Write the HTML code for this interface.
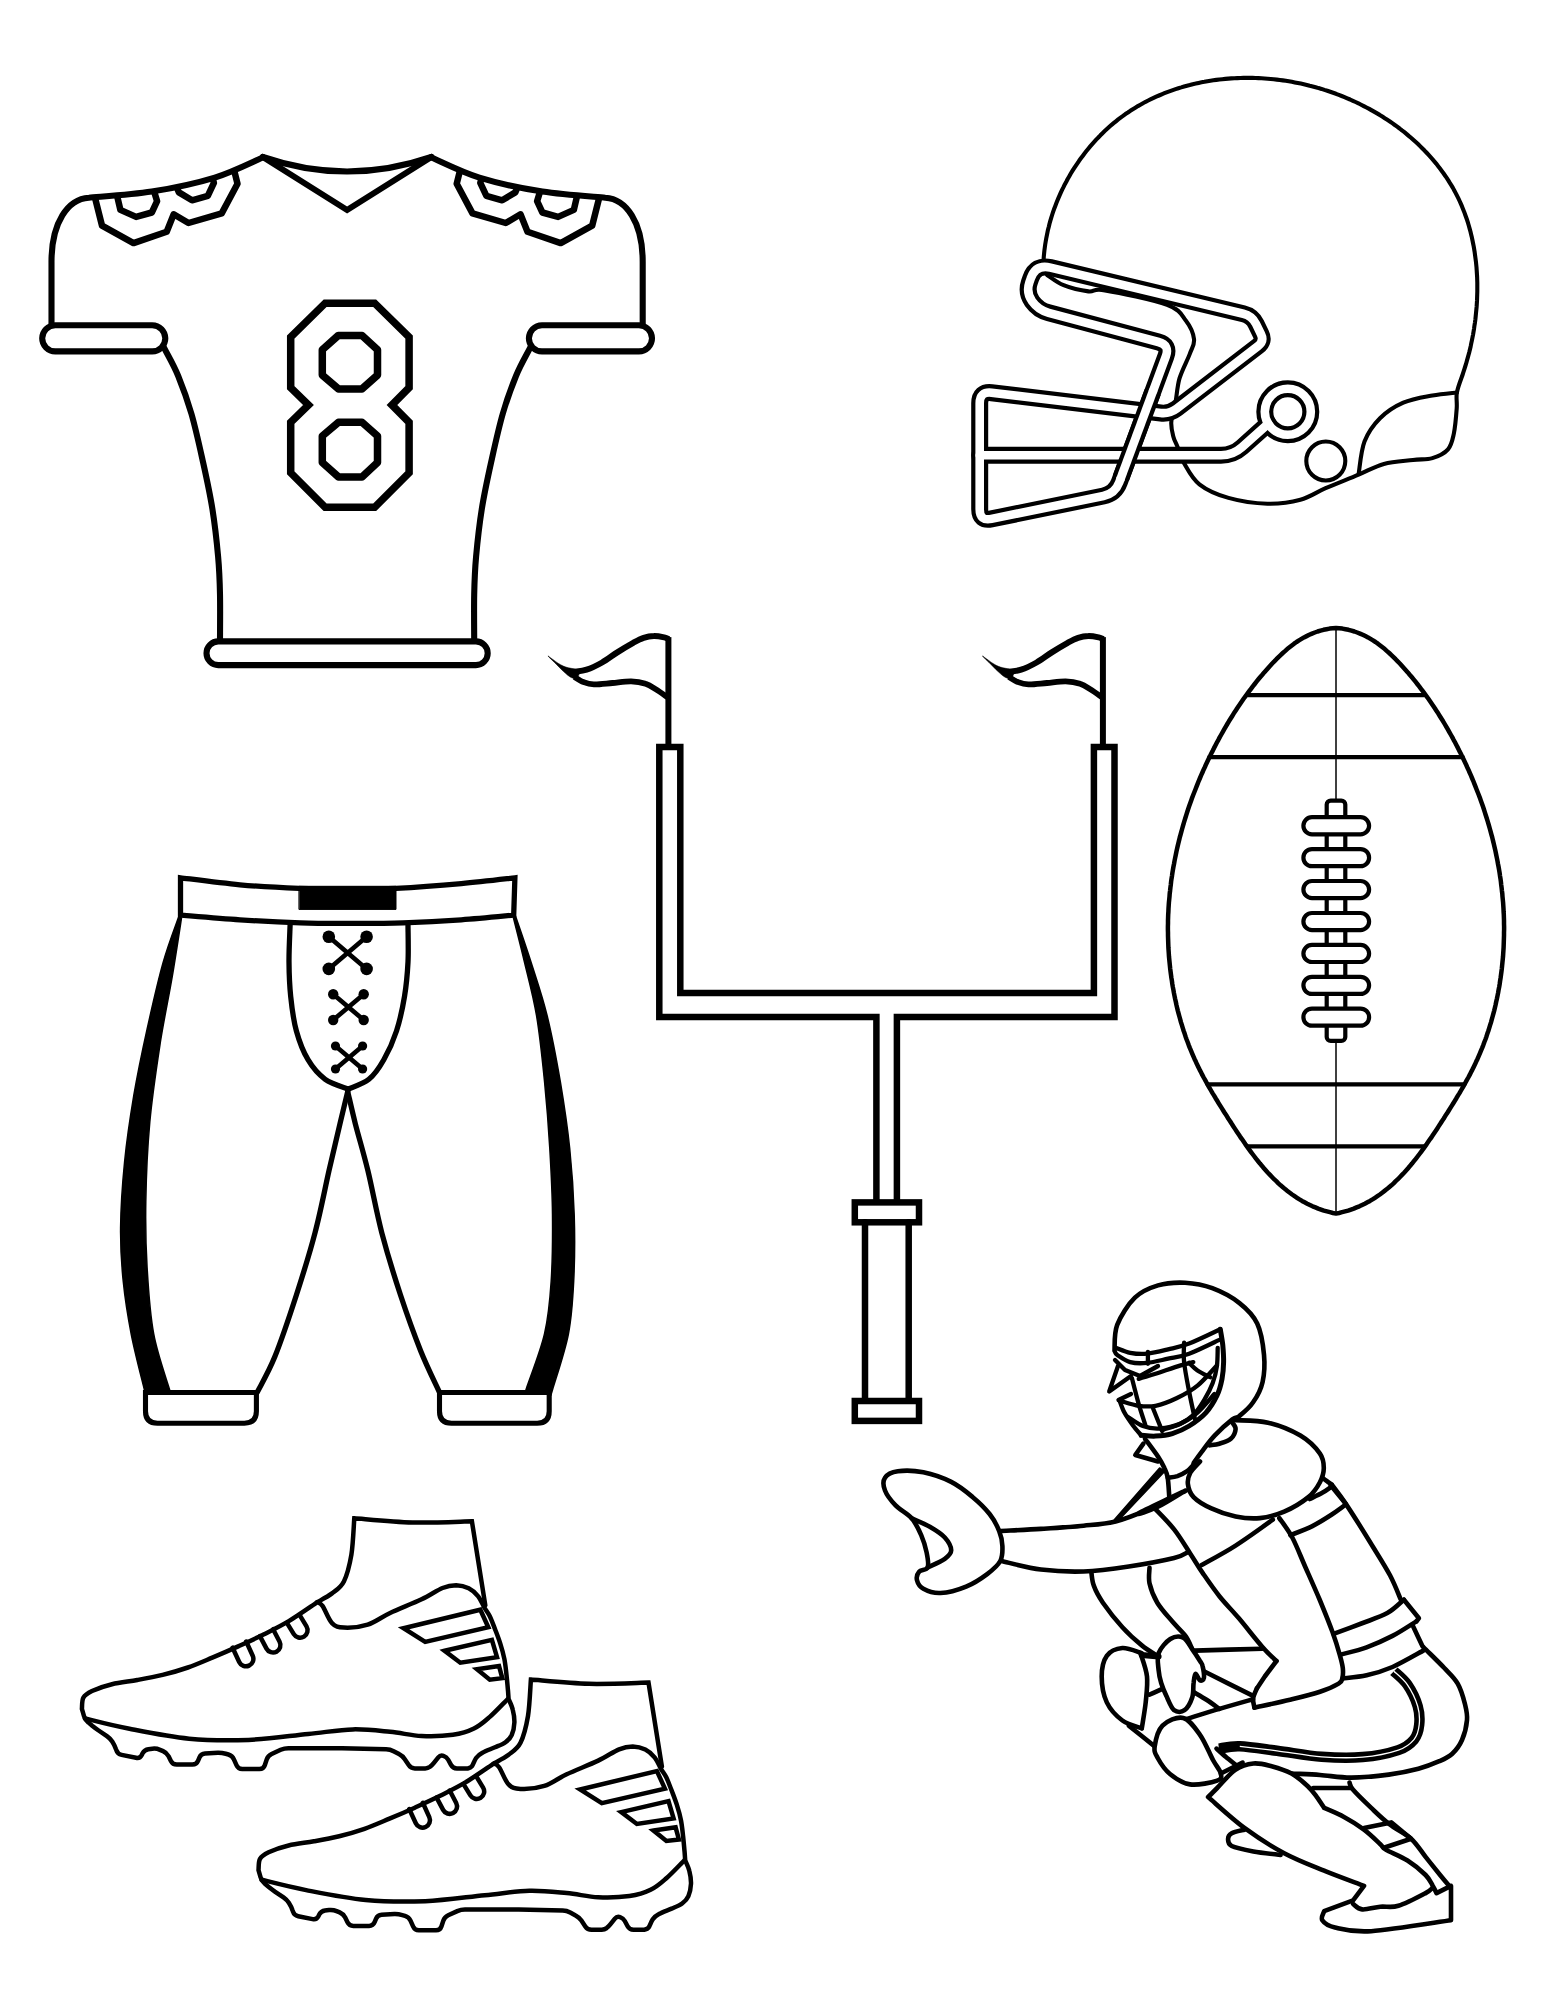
<!DOCTYPE html>
<html><head><meta charset="utf-8"><style>
html,body{margin:0;padding:0;background:#fff;}
svg{display:block;position:absolute;left:0;top:0;}
</style></head><body>
<svg width="1545" height="2000" viewBox="0 0 1545 2000" stroke-linecap="round" stroke-linejoin="round">
<rect width="1545" height="2000" fill="#fff"/>
<path d="M262.8 157.5 C254.8 160.8 233.3 171.9 214.8 177.6 C196.3 183.3 172.8 188.2 151.8 191.6 C130.9 194.9 99.4 196.7 88.9 197.7 C68 199 51.5 222 51.5 262 L51.5 330" fill="none" stroke="#000" stroke-width="6.1" stroke-linejoin="round"/>
<path d="M431.4 157.5 C439.4 160.8 460.9 171.9 479.4 177.6 C497.9 183.3 521.4 188.2 542.4 191.6 C563.3 194.9 594.8 196.7 605.3 197.7 C626.2 199 642.7 222 642.7 262 L642.7 330" fill="none" stroke="#000" stroke-width="6.1" stroke-linejoin="round"/>
<path d="M161 342 C161.7 343.2 162 343.7 164.9 349.4 C167.8 355.1 173.8 365.2 178.2 376 C182.6 386.8 187.4 399.8 191.5 414 C195.6 428.2 199.4 445.7 202.9 461.5 C206.4 477.3 209.9 493.2 212.4 509 C214.9 524.8 216.8 542.2 218.1 556.5 C219.4 570.8 219.7 580.2 220 594.5 C220.3 608.8 220 634.1 220 642" fill="none" stroke="#000" stroke-width="6.1" />
<path d="M533.2 342 C532.6 343.2 532.2 343.7 529.3 349.4 C526.4 355.1 520.4 365.2 516 376 C511.6 386.8 506.8 399.8 502.7 414 C498.6 428.2 494.8 445.7 491.3 461.5 C487.8 477.3 484.3 493.2 481.8 509 C479.3 524.8 477.4 542.2 476.1 556.5 C474.8 570.8 474.5 580.2 474.2 594.5 C473.9 608.8 474.2 634.1 474.2 642" fill="none" stroke="#000" stroke-width="6.1" />
<path d="M262.8 157 Q347 186 431.4 157" fill="none" stroke="#000" stroke-width="6.1" />
<path d="M262.8 157 L347.1 210 L431.4 157" fill="none" stroke="#000" stroke-width="6.1" stroke-linejoin="miter"/>
<rect x="42.2" y="325.2" width="123.1" height="26.2" rx="13.1" fill="#fff" stroke="#000" stroke-width="6.1"/>
<rect x="528.9" y="325.2" width="123.1" height="26.2" rx="13.1" fill="#fff" stroke="#000" stroke-width="6.1"/>
<rect x="206.5" y="641.4" width="281.2" height="23.7" rx="11.8" fill="#fff" stroke="#000" stroke-width="6.1"/>
<path d="M95 197.7 L102 225.6 L133.5 243.1 L166.7 231.7 L173.7 214.3 L188.5 223 L221.7 213.4 L237.5 183.7 L234 169.7" fill="none" stroke="#000" stroke-width="6.5" stroke-linejoin="round" stroke-linecap="butt"/>
<path d="M599.2 197.7 L592.2 225.6 L560.7 243.1 L527.5 231.7 L520.5 214.3 L505.7 223 L472.5 213.4 L456.7 183.7 L460.2 169.7" fill="none" stroke="#000" stroke-width="6.5" stroke-linejoin="round" stroke-linecap="butt"/>
<path d="M116.9 195 L120.4 209.9 L136.1 216.9 L151.8 212.5 L157.1 201.2 L153.6 189.8" fill="none" stroke="#000" stroke-width="6.5" stroke-linejoin="round" stroke-linecap="butt"/>
<path d="M577.3 195 L573.8 209.9 L558.1 216.9 L542.4 212.5 L537.1 201.2 L540.6 189.8" fill="none" stroke="#000" stroke-width="6.5" stroke-linejoin="round" stroke-linecap="butt"/>
<path d="M176.3 186.3 L178.9 192.4 L192 200.3 L207.8 195.9 L213.9 182.8 L212.1 176.7" fill="none" stroke="#000" stroke-width="6.5" stroke-linejoin="round" stroke-linecap="butt"/>
<path d="M517.9 186.3 L515.3 192.4 L502.2 200.3 L486.4 195.9 L480.3 182.8 L482.1 176.7" fill="none" stroke="#000" stroke-width="6.5" stroke-linejoin="round" stroke-linecap="butt"/>
<path d="M325.2 303.2 L374.6 303.2 L409.1 337.1 L409.1 387.7 L391.9 405 L409.1 422.3 L409.1 472.8 L374.6 507.3 L325.2 507.3 L290.7 472.8 L290.7 422.3 L308.5 405 L290.7 387.7 L290.7 337.1Z" fill="none" stroke="#000" stroke-width="7.5" stroke-linejoin="miter"/>
<path d="M338.4 335.4 L362 335.4 L377.5 349.8 L377.5 375.1 L362 388.9 L338.4 388.9 L322.3 375.1 L322.3 349.8Z" fill="none" stroke="#000" stroke-width="7.5" />
<path d="M338.4 422.3 L362 422.3 L377.5 436 L377.5 462.5 L362 476.9 L338.4 476.9 L322.3 462.5 L322.3 436Z" fill="none" stroke="#000" stroke-width="7.5" />
<path d="M876.4 1202.4 L876.4 1017 L659.3 1017 L659.3 747 L680.3 747 L680.3 993 L1093.9 993 L1093.9 747 L1114.5 747 L1114.5 1017 L896.9 1017 L896.9 1202.4" fill="none" stroke="#000" stroke-width="6.5" stroke-linejoin="miter"/>
<rect x="854.8" y="1202.4" width="64.2" height="19.9" fill="#fff" stroke="#000" stroke-width="6.5" stroke-linejoin="miter"/>
<path d="M865 1222.3 L865 1401 M908.7 1222.3 L908.7 1401" fill="none" stroke="#000" stroke-width="6.5" />
<rect x="854.8" y="1401" width="64.2" height="19.9" fill="#fff" stroke="#000" stroke-width="6.5" stroke-linejoin="miter"/>
<path d="M574.2 671.8 C576.2 671.4 581.9 671.3 586.6 669.7 C591.3 668.2 597 665.4 602.1 662.5 C607.3 659.5 612.5 655.4 617.7 652.1 C622.8 648.8 628.9 645.2 633.2 642.8 C637.5 640.4 640.1 638.9 643.6 637.8 C647 636.7 650.5 636.1 653.9 636.1 C657.4 636 661.8 636.9 664.3 637.4 C666.8 637.9 668.2 638.9 668.9 639.2" fill="none" stroke="#000" stroke-width="6.0" stroke-linecap="butt"/>
<path d="M574.2 676.8 C575.7 677.6 580.2 680.9 583.5 682.1 C586.8 683.4 589 684.3 593.9 684.4 C598.7 684.6 606.3 683.5 612.5 683 C618.7 682.4 625.6 681.2 631.1 681.3 C636.7 681.4 641.5 682.3 645.6 683.7 C649.8 685 652.4 687.1 656 689.4 C659.6 691.6 665.5 695.9 667.4 697.2" fill="none" stroke="#000" stroke-width="5.8" stroke-linecap="butt"/>
<path d="M548.3 656.2 C549 656.4 555.7 661.7 558.6 663.5 C561.6 665.3 563 666.1 565.9 667.1 C568.8 668.1 574 668.6 576.2 669.5 C578.5 670.5 579.3 671.4 579.4 672.8 C579.4 674.2 578.1 677.2 576.8 678 C575.4 678.8 573.2 678.5 571.1 677.5 C568.9 676.4 566.6 674.3 563.8 671.8 C561.1 669.3 557.1 665 554.5 662.5 C551.9 659.9 547.6 656.1 548.3 656.2Z" fill="#000" stroke="#000" stroke-width="0.5" />
<path d="M668.4 637.1 L668.4 744.8" fill="none" stroke="#000" stroke-width="6.0" stroke-linecap="butt"/>
<path d="M1008.7 671.8 C1010.7 671.4 1016.4 671.3 1021.1 669.7 C1025.8 668.2 1031.5 665.4 1036.6 662.5 C1041.8 659.5 1047 655.4 1052.2 652.1 C1057.3 648.8 1063.4 645.2 1067.7 642.8 C1072 640.4 1074.6 638.9 1078.1 637.8 C1081.5 636.7 1085 636.1 1088.4 636.1 C1091.9 636 1096.3 636.9 1098.8 637.4 C1101.3 637.9 1102.7 638.9 1103.4 639.2" fill="none" stroke="#000" stroke-width="6.0" stroke-linecap="butt"/>
<path d="M1008.7 676.8 C1010.2 677.6 1014.7 680.9 1018 682.1 C1021.3 683.4 1023.5 684.3 1028.4 684.4 C1033.2 684.6 1040.8 683.5 1047 683 C1053.2 682.4 1060.1 681.2 1065.6 681.3 C1071.2 681.4 1076 682.3 1080.1 683.7 C1084.3 685 1086.9 687.1 1090.5 689.4 C1094.1 691.6 1100 695.9 1101.9 697.2" fill="none" stroke="#000" stroke-width="5.8" stroke-linecap="butt"/>
<path d="M982.8 656.2 C983.5 656.4 990.2 661.7 993.1 663.5 C996.1 665.3 997.5 666.1 1000.4 667.1 C1003.3 668.1 1008.5 668.6 1010.7 669.5 C1013 670.5 1013.8 671.4 1013.9 672.8 C1013.9 674.2 1012.6 677.2 1011.3 678 C1009.9 678.8 1007.7 678.5 1005.6 677.5 C1003.4 676.4 1001.1 674.3 998.3 671.8 C995.6 669.3 991.6 665 989 662.5 C986.4 659.9 982.1 656.1 982.8 656.2Z" fill="#000" stroke="#000" stroke-width="0.5" />
<path d="M1102.9 637.1 L1102.9 744.8" fill="none" stroke="#000" stroke-width="6.0" stroke-linecap="butt"/>
<path d="M1336 627.9 L1332.8 628.2 L1329.6 628.6 L1326.5 629.2 L1323.5 629.8 L1320.5 630.6 L1317.6 631.5 L1314.8 632.5 L1312 633.6 L1309.3 634.8 L1306.6 636.1 L1304 637.4 L1301.5 638.9 L1299 640.4 L1296.5 642 L1294.1 643.7 L1291.8 645.5 L1289.5 647.3 L1287.2 649.1 L1285 651.1 L1282.8 653 L1280.6 655.1 L1278.5 657.1 L1276.4 659.2 L1274.3 661.4 L1272.2 663.5 L1270.2 665.7 L1268.2 668 L1266.2 670.2 L1264.2 672.4 L1262.3 674.7 L1260.3 677 L1258.4 679.3 L1256.5 681.7 L1254.7 684 L1252.8 686.4 L1251 688.8 L1249.2 691.2 L1247.4 693.6 L1245.6 696.1 L1243.8 698.5 L1242.1 701 L1240.4 703.5 L1238.7 706 L1237 708.5 L1235.4 711.1 L1233.7 713.6 L1232.1 716.2 L1230.5 718.8 L1228.9 721.3 L1227.3 724 L1225.8 726.6 L1224.3 729.2 L1222.8 731.8 L1221.3 734.5 L1219.8 737.1 L1218.4 739.8 L1216.9 742.5 L1215.5 745.2 L1214.1 747.9 L1212.8 750.6 L1211.4 753.3 L1210.1 756 L1208.7 758.7 L1207.4 761.5 L1206.1 764.2 L1204.9 767 L1203.6 769.7 L1202.4 772.5 L1201.2 775.2 L1200 778 L1198.8 780.8 L1197.7 783.6 L1196.6 786.4 L1195.5 789.2 L1194.4 792 L1193.3 794.8 L1192.2 797.6 L1191.2 800.5 L1190.2 803.3 L1189.2 806.1 L1188.2 809 L1187.3 811.8 L1186.4 814.7 L1185.5 817.5 L1184.6 820.4 L1183.7 823.3 L1182.9 826.2 L1182.1 829 L1181.3 831.9 L1180.5 834.8 L1179.7 837.7 L1179 840.6 L1178.3 843.5 L1177.6 846.4 L1176.9 849.4 L1176.3 852.3 L1175.7 855.2 L1175.1 858.1 L1174.5 861.1 L1174 864 L1173.4 867 L1172.9 869.9 L1172.4 872.9 L1172 875.8 L1171.5 878.8 L1171.1 881.7 L1170.8 884.7 L1170.4 887.7 L1170.1 890.6 L1169.7 893.6 L1169.5 896.6 L1169.2 899.6 L1168.9 902.6 L1168.7 905.6 L1168.5 908.6 L1168.4 911.5 L1168.2 914.5 L1168.1 917.5 L1168 920.5 L1168 923.6 L1167.9 926.6 L1167.9 929.6 L1168 932.6 L1168 935.6 L1168.1 938.6 L1168.2 941.6 L1168.3 944.7 L1168.4 947.7 L1168.6 950.7 L1168.8 953.7 L1169 956.8 L1169.3 959.8 L1169.6 962.8 L1169.9 965.8 L1170.2 968.8 L1170.6 971.9 L1171 974.9 L1171.4 977.9 L1171.9 980.9 L1172.3 983.9 L1172.8 986.9 L1173.4 989.9 L1173.9 992.9 L1174.5 995.9 L1175.1 998.8 L1175.8 1001.8 L1176.4 1004.8 L1177.1 1007.7 L1177.8 1010.6 L1178.6 1013.6 L1179.4 1016.5 L1180.2 1019.4 L1181 1022.3 L1181.9 1025.2 L1182.8 1028.1 L1183.7 1031 L1184.7 1033.8 L1185.6 1036.7 L1186.6 1039.5 L1187.7 1042.3 L1188.7 1045.1 L1189.8 1047.9 L1191 1050.7 L1192.1 1053.4 L1193.3 1056.2 L1194.5 1058.9 L1195.8 1061.6 L1197 1064.3 L1198.3 1066.9 L1199.6 1069.6 L1201 1072.3 L1202.3 1074.9 L1203.7 1077.5 L1205.2 1080.1 L1206.6 1082.7 L1208 1085.3 L1209.5 1087.9 L1211 1090.5 L1212.5 1093.1 L1214.1 1095.6 L1215.6 1098.2 L1217.2 1100.8 L1218.7 1103.3 L1220.3 1105.9 L1221.9 1108.4 L1223.5 1111 L1225.1 1113.6 L1226.8 1116.1 L1228.4 1118.7 L1230.1 1121.2 L1231.7 1123.8 L1233.4 1126.4 L1235 1128.9 L1236.7 1131.5 L1238.4 1134 L1240.1 1136.6 L1241.9 1139.1 L1243.6 1141.6 L1245.3 1144.1 L1247.1 1146.6 L1248.9 1149.1 L1250.7 1151.6 L1252.5 1154 L1254.4 1156.5 L1256.2 1158.9 L1258.1 1161.2 L1260 1163.6 L1262 1165.9 L1263.9 1168.2 L1265.9 1170.5 L1267.9 1172.7 L1270 1174.9 L1272 1177 L1274.1 1179.2 L1276.3 1181.2 L1278.4 1183.3 L1280.6 1185.3 L1282.9 1187.2 L1285.1 1189.1 L1287.4 1190.9 L1289.8 1192.7 L1292.1 1194.5 L1294.6 1196.2 L1297 1197.8 L1299.5 1199.4 L1302 1200.9 L1304.6 1202.3 L1307.2 1203.7 L1309.9 1205 L1312.6 1206.3 L1315.4 1207.4 L1318.2 1208.6 L1321 1209.6 L1323.9 1210.6 L1326.9 1211.4 L1329.9 1212.2 L1332.9 1213 L1336 1213.6 L1339.1 1213 L1342.1 1212.2 L1345.1 1211.4 L1348.1 1210.6 L1351 1209.6 L1353.8 1208.6 L1356.6 1207.4 L1359.4 1206.3 L1362.1 1205 L1364.8 1203.7 L1367.4 1202.3 L1370 1200.9 L1372.5 1199.4 L1375 1197.8 L1377.4 1196.2 L1379.9 1194.5 L1382.2 1192.7 L1384.6 1190.9 L1386.9 1189.1 L1389.1 1187.2 L1391.4 1185.3 L1393.6 1183.3 L1395.7 1181.2 L1397.9 1179.2 L1400 1177 L1402 1174.9 L1404.1 1172.7 L1406.1 1170.5 L1408.1 1168.2 L1410 1165.9 L1412 1163.6 L1413.9 1161.2 L1415.8 1158.9 L1417.6 1156.5 L1419.5 1154 L1421.3 1151.6 L1423.1 1149.1 L1424.9 1146.6 L1426.7 1144.1 L1428.4 1141.6 L1430.1 1139.1 L1431.9 1136.6 L1433.6 1134 L1435.3 1131.5 L1437 1128.9 L1438.6 1126.4 L1440.3 1123.8 L1441.9 1121.2 L1443.6 1118.7 L1445.2 1116.1 L1446.9 1113.6 L1448.5 1111 L1450.1 1108.4 L1451.7 1105.9 L1453.3 1103.3 L1454.8 1100.8 L1456.4 1098.2 L1457.9 1095.6 L1459.5 1093.1 L1461 1090.5 L1462.5 1087.9 L1464 1085.3 L1465.4 1082.7 L1466.8 1080.1 L1468.3 1077.5 L1469.7 1074.9 L1471 1072.3 L1472.4 1069.6 L1473.7 1066.9 L1475 1064.3 L1476.2 1061.6 L1477.5 1058.9 L1478.7 1056.2 L1479.9 1053.4 L1481 1050.7 L1482.2 1047.9 L1483.3 1045.1 L1484.3 1042.3 L1485.4 1039.5 L1486.4 1036.7 L1487.3 1033.8 L1488.3 1031 L1489.2 1028.1 L1490.1 1025.2 L1491 1022.3 L1491.8 1019.4 L1492.6 1016.5 L1493.4 1013.6 L1494.2 1010.6 L1494.9 1007.7 L1495.6 1004.8 L1496.2 1001.8 L1496.9 998.8 L1497.5 995.9 L1498.1 992.9 L1498.6 989.9 L1499.2 986.9 L1499.7 983.9 L1500.1 980.9 L1500.6 977.9 L1501 974.9 L1501.4 971.9 L1501.8 968.8 L1502.1 965.8 L1502.4 962.8 L1502.7 959.8 L1503 956.8 L1503.2 953.7 L1503.4 950.7 L1503.6 947.7 L1503.7 944.7 L1503.8 941.6 L1503.9 938.6 L1504 935.6 L1504 932.6 L1504.1 929.6 L1504.1 926.6 L1504 923.6 L1504 920.5 L1503.9 917.5 L1503.8 914.5 L1503.6 911.5 L1503.5 908.6 L1503.3 905.6 L1503.1 902.6 L1502.8 899.6 L1502.5 896.6 L1502.3 893.6 L1501.9 890.6 L1501.6 887.7 L1501.2 884.7 L1500.9 881.7 L1500.5 878.8 L1500 875.8 L1499.6 872.9 L1499.1 869.9 L1498.6 867 L1498 864 L1497.5 861.1 L1496.9 858.1 L1496.3 855.2 L1495.7 852.3 L1495.1 849.4 L1494.4 846.4 L1493.7 843.5 L1493 840.6 L1492.3 837.7 L1491.5 834.8 L1490.7 831.9 L1489.9 829 L1489.1 826.2 L1488.3 823.3 L1487.4 820.4 L1486.5 817.5 L1485.6 814.7 L1484.7 811.8 L1483.8 809 L1482.8 806.1 L1481.8 803.3 L1480.8 800.5 L1479.8 797.6 L1478.7 794.8 L1477.6 792 L1476.5 789.2 L1475.4 786.4 L1474.3 783.6 L1473.2 780.8 L1472 778 L1470.8 775.2 L1469.6 772.5 L1468.4 769.7 L1467.1 767 L1465.9 764.2 L1464.6 761.5 L1463.3 758.7 L1461.9 756 L1460.6 753.3 L1459.2 750.6 L1457.9 747.9 L1456.5 745.2 L1455.1 742.5 L1453.6 739.8 L1452.2 737.1 L1450.7 734.5 L1449.2 731.8 L1447.7 729.2 L1446.2 726.6 L1444.7 724 L1443.1 721.3 L1441.5 718.8 L1439.9 716.2 L1438.3 713.6 L1436.6 711.1 L1435 708.5 L1433.3 706 L1431.6 703.5 L1429.9 701 L1428.2 698.5 L1426.4 696.1 L1424.6 693.6 L1422.8 691.2 L1421 688.8 L1419.2 686.4 L1417.3 684 L1415.5 681.7 L1413.6 679.3 L1411.7 677 L1409.7 674.7 L1407.8 672.4 L1405.8 670.2 L1403.8 668 L1401.8 665.7 L1399.8 663.5 L1397.7 661.4 L1395.6 659.2 L1393.5 657.1 L1391.4 655.1 L1389.2 653 L1387 651.1 L1384.8 649.1 L1382.5 647.3 L1380.2 645.5 L1377.9 643.7 L1375.5 642 L1373 640.4 L1370.5 638.9 L1368 637.4 L1365.4 636.1 L1362.7 634.8 L1360 633.6 L1357.2 632.5 L1354.4 631.5 L1351.5 630.6 L1348.5 629.8 L1345.5 629.2 L1342.4 628.6 L1339.2 628.2Z" fill="none" stroke="#000" stroke-width="4.5" />
<path d="M1248.3 695.2 L1423.7 695.2" fill="none" stroke="#000" stroke-width="4.2" />
<path d="M1209.2 757.2 L1462.8 757.2" fill="none" stroke="#000" stroke-width="4.2" />
<path d="M1207.4 1084.3 L1464.6 1084.3" fill="none" stroke="#000" stroke-width="4.2" />
<path d="M1247.3 1146.3 L1424.7 1146.3" fill="none" stroke="#000" stroke-width="4.2" />
<path d="M1336 628 L1336 1214" fill="none" stroke="#000" stroke-width="1.5" />
<rect x="1326.7" y="800.6" width="18.6" height="240.3" rx="4" fill="#fff" stroke="#000" stroke-width="4.2"/>
<rect x="1303.4" y="817.2" width="65.7" height="17.1" rx="8.55" fill="#fff" stroke="#000" stroke-width="4.2"/>
<rect x="1303.4" y="849.1" width="65.7" height="17.1" rx="8.55" fill="#fff" stroke="#000" stroke-width="4.2"/>
<rect x="1303.4" y="881" width="65.7" height="17.1" rx="8.55" fill="#fff" stroke="#000" stroke-width="4.2"/>
<rect x="1303.4" y="913" width="65.7" height="17.1" rx="8.55" fill="#fff" stroke="#000" stroke-width="4.2"/>
<rect x="1303.4" y="944.9" width="65.7" height="17.1" rx="8.55" fill="#fff" stroke="#000" stroke-width="4.2"/>
<rect x="1303.4" y="976.8" width="65.7" height="17.1" rx="8.55" fill="#fff" stroke="#000" stroke-width="4.2"/>
<rect x="1303.4" y="1008.6" width="65.7" height="17.1" rx="8.55" fill="#fff" stroke="#000" stroke-width="4.2"/>
<path d="M1043.6 259.5 L1043.8 256.5 L1044.1 253.5 L1044.4 250.5 L1044.8 247.5 L1045.2 244.5 L1045.7 241.5 L1046.2 238.6 L1046.8 235.6 L1047.4 232.6 L1048 229.7 L1048.8 226.7 L1049.5 223.8 L1050.3 220.9 L1051.2 217.9 L1052.1 215 L1053 212.2 L1054 209.3 L1055.1 206.4 L1056.2 203.6 L1057.3 200.8 L1058.5 197.9 L1059.7 195.2 L1060.9 192.4 L1062.2 189.6 L1063.6 186.9 L1064.9 184.2 L1066.4 181.5 L1067.8 178.8 L1069.3 176.2 L1070.8 173.5 L1072.4 170.9 L1074 168.4 L1075.7 165.8 L1077.4 163.3 L1079.1 160.8 L1080.9 158.3 L1082.7 155.9 L1084.5 153.5 L1086.4 151.1 L1088.3 148.7 L1090.2 146.4 L1092.2 144.1 L1094.2 141.9 L1096.2 139.6 L1098.3 137.5 L1100.4 135.3 L1102.5 133.2 L1104.7 131.1 L1106.9 129.1 L1109.1 127.1 L1111.3 125.1 L1113.6 123.2 L1115.9 121.3 L1118.2 119.4 L1120.6 117.6 L1123 115.9 L1125.4 114.1 L1127.9 112.5 L1130.3 110.8 L1132.8 109.2 L1135.3 107.7 L1137.9 106.1 L1140.4 104.7 L1143 103.2 L1145.6 101.8 L1148.2 100.5 L1150.9 99.2 L1153.6 97.9 L1156.2 96.7 L1159 95.5 L1161.7 94.3 L1164.4 93.2 L1167.2 92.1 L1170 91.1 L1172.8 90.1 L1175.6 89.1 L1178.4 88.2 L1181.2 87.4 L1184.1 86.5 L1187 85.7 L1189.8 85 L1192.7 84.2 L1195.7 83.6 L1198.6 82.9 L1201.5 82.3 L1204.4 81.8 L1207.4 81.2 L1210.4 80.7 L1213.3 80.3 L1216.3 79.9 L1219.3 79.5 L1222.3 79.2 L1225.3 78.9 L1228.3 78.6 L1231.3 78.4 L1234.3 78.2 L1237.3 78.1 L1240.4 78 L1243.4 77.9 L1246.4 77.9 L1249.4 77.9 L1252.5 77.9 L1255.5 78 L1258.5 78.1 L1261.6 78.3 L1264.6 78.5 L1267.7 78.7 L1270.7 79 L1273.7 79.3 L1276.8 79.6 L1279.8 80 L1282.8 80.4 L1285.8 80.8 L1288.8 81.3 L1291.8 81.8 L1294.8 82.4 L1297.8 83 L1300.8 83.6 L1303.8 84.2 L1306.8 84.9 L1309.7 85.7 L1312.7 86.4 L1315.6 87.2 L1318.6 88.1 L1321.5 88.9 L1324.4 89.9 L1327.3 90.8 L1330.2 91.8 L1333.1 92.8 L1336 93.8 L1338.8 94.9 L1341.7 96 L1344.5 97.1 L1347.3 98.3 L1350.1 99.5 L1352.9 100.8 L1355.6 102 L1358.4 103.3 L1361.1 104.7 L1363.8 106.1 L1366.5 107.5 L1369.2 108.9 L1371.8 110.4 L1374.5 111.9 L1377.1 113.4 L1379.7 114.9 L1382.3 116.5 L1384.8 118.2 L1387.3 119.8 L1389.9 121.5 L1392.3 123.2 L1394.8 125 L1397.2 126.7 L1399.6 128.5 L1402 130.4 L1404.4 132.2 L1406.7 134.1 L1409 136.1 L1411.3 138 L1413.5 140 L1415.8 142 L1418 144 L1420.1 146.1 L1422.2 148.2 L1424.3 150.3 L1426.4 152.5 L1428.4 154.7 L1430.4 156.9 L1432.4 159.1 L1434.3 161.3 L1436.2 163.6 L1438 165.9 L1439.8 168.3 L1441.6 170.7 L1443.3 173 L1445 175.5 L1446.7 177.9 L1448.3 180.4 L1449.8 182.9 L1451.4 185.4 L1452.9 187.9 L1454.3 190.5 L1455.7 193.1 L1457 195.7 L1458.4 198.4 L1459.6 201 L1460.8 203.7 L1462 206.4 L1463.1 209.2 L1464.2 211.9 L1465.2 214.7 L1466.2 217.5 L1467.2 220.3 L1468.1 223.2 L1468.9 226 L1469.7 228.9 L1470.5 231.8 L1471.2 234.7 L1471.9 237.6 L1472.5 240.5 L1473.1 243.5 L1473.7 246.4 L1474.2 249.4 L1474.7 252.4 L1475.1 255.4 L1475.5 258.4 L1475.9 261.4 L1476.2 264.4 L1476.5 267.4 L1476.7 270.4 L1476.9 273.5 L1477.1 276.5 L1477.2 279.6 L1477.3 282.6 L1477.3 285.7 L1477.3 288.7 L1477.3 291.8 L1477.2 294.8 L1477.1 297.9 L1477 300.9 L1476.8 304 L1476.6 307 L1476.3 310.1 L1476 313.1 L1475.7 316.2 L1475.4 319.2 L1475 322.3 L1474.5 325.3 L1474.1 328.3 L1473.6 331.3 L1473.1 334.3 L1472.5 337.3 L1471.9 340.3 L1471.3 343.2 L1470.7 346.2 L1470 349.2 L1469.3 352.1 L1468.5 355 L1467.7 357.9 L1466.9 360.8 L1466.1 363.7 L1465.2 366.5 L1464.3 369.4 L1463.4 372.2 L1462.5 375 C1461.5 377.9 1457.9 386.9 1456.9 392.5 C1455.9 398.1 1457.2 401.6 1456.7 408.5 C1456.2 415.4 1455.2 427 1453.8 433.8 C1452.3 440.6 1451.6 445.2 1448 449.3 C1444.4 453.4 1438.2 456.3 1432.4 458.1 C1426.6 459.9 1421.1 459 1413 460 C1404.9 461 1393 461.5 1383.9 463.9 C1374.8 466.3 1368.3 470.6 1358.6 474.6 C1348.9 478.7 1335.3 484 1325.6 488.2 C1315.9 492.4 1310.1 497.2 1300.4 499.8 C1290.7 502.4 1279.4 504 1267.4 503.7 C1255.4 503.4 1239.8 501.1 1228.5 497.9 C1217.2 494.7 1206.8 490.1 1199.4 484.3 C1192 478.5 1187.6 469.2 1183.9 462.9 C1180.2 456.6 1179.2 451.2 1177.5 446.8 C1175.7 442.3 1174.4 440.6 1173.3 436.4 C1172.3 432.3 1170.9 427.4 1171.3 421.9 C1171.6 416.4 1174 410.5 1175.4 403.3 C1176.8 396 1177.1 386.7 1179.5 378.4 C1182 370.1 1187.5 360.1 1189.9 353.6 C1192.3 347 1194.7 344.6 1194 339.1 C1193.4 333.5 1190.2 326.1 1185.8 320.4 C1181.3 314.7 1180.6 309.9 1167.1 304.9 C1153.7 299.9 1118.1 292.6 1105 290.4 C1091.9 288.1 1095.3 292.3 1088.4 291.4 C1081.5 290.6 1070.5 288 1063.6 285.2 C1056.7 282.4 1049.8 276.6 1047 274.9Z" fill="#fff" stroke="#000" stroke-width="4.1" />
<path d="M1456.9 392.5 C1452.8 393 1441.3 393.8 1432.4 395.5 C1423.5 397.2 1412 398.9 1403.3 402.7 C1394.6 406.5 1386.5 411.8 1380 418.3 C1373.5 424.8 1368.1 432.3 1364.5 441.6 C1360.9 450.9 1359.6 468.6 1358.6 474" fill="none" stroke="#000" stroke-width="4.1" />
<circle cx="1325.8" cy="461" r="19.5" fill="#fff" stroke="#000" stroke-width="4.1"/>
<path d="M1030.8 278.3 L1030.8 278.3 Q1035.8 264.1 1050.4 267.6 L1243.3 313.8 Q1252 315.9 1256 323.9 L1260.9 334 Q1264.5 341.1 1258.1 346 L1176.7 408.6 Q1169.6 414 1160.7 413 L991.6 392.7 Q979.7 391.3 979.7 403.3 L979.7 509.3 Q979.7 521.3 991.4 518.9 L1103.4 496 Q1115.1 493.6 1119.3 482.3 L1165.9 356.3 Q1170 345.1 1158.4 342 L1048.7 312.8 Q1038.3 310.1 1032.1 301.3 L1032.1 301.3 Q1025.9 292.5 1029.4 282.3Z" fill="none" stroke="#000" stroke-width="17" />
<path d="M979.7 455.3 L1221 455.3 Q1233 455.3 1241.9 447.3 L1268.2 423.7" fill="none" stroke="#000" stroke-width="17" />
<circle cx="1287.8" cy="411.7" r="23" fill="none" stroke="#000" stroke-width="17"/>
<path d="M1030.8 278.3 L1030.8 278.3 Q1035.8 264.1 1050.4 267.6 L1243.3 313.8 Q1252 315.9 1256 323.9 L1260.9 334 Q1264.5 341.1 1258.1 346 L1176.7 408.6 Q1169.6 414 1160.7 413 L991.6 392.7 Q979.7 391.3 979.7 403.3 L979.7 509.3 Q979.7 521.3 991.4 518.9 L1103.4 496 Q1115.1 493.6 1119.3 482.3 L1165.9 356.3 Q1170 345.1 1158.4 342 L1048.7 312.8 Q1038.3 310.1 1032.1 301.3 L1032.1 301.3 Q1025.9 292.5 1029.4 282.3Z" fill="none" stroke="#fff" stroke-width="8.6" />
<path d="M979.7 455.3 L1221 455.3 Q1233 455.3 1241.9 447.3 L1268.2 423.7" fill="none" stroke="#fff" stroke-width="8.6" />
<circle cx="1287.8" cy="411.7" r="23" fill="none" stroke="#fff" stroke-width="8.6"/>
<path d="M1152.7 392 L1120.9 478" fill="none" stroke="#000" stroke-width="17" stroke-linecap="butt"/>
<path d="M1153.4 390 L1120.1 480" fill="none" stroke="#fff" stroke-width="8.6" stroke-linecap="butt"/>
<path d="M179 916 C176.3 923.8 168.3 944.1 163 963 C157.7 981.9 152 1007.1 147.1 1029.2 C142.2 1051.3 137.6 1073.4 133.8 1095.5 C130.1 1117.6 126.8 1139.7 124.6 1161.8 C122.4 1183.9 120.8 1208.1 120.6 1228 C120.4 1247.9 121.4 1263.3 123.2 1281 C125 1298.7 127.7 1315.9 131.2 1334 C134.7 1352.1 142 1379.7 144.4 1389.7 C146.8 1399.7 145.3 1393.3 145.5 1394 L171 1394 C170.8 1393.3 172.5 1399.7 169.6 1389.7 C166.7 1379.7 157.4 1354.3 153.7 1334 C149.9 1313.7 148.4 1289.8 147.1 1267.7 C145.8 1245.6 145.4 1225.8 145.8 1201.5 C146.2 1177.2 147.4 1148.5 149.8 1122 C152.2 1095.5 156.6 1066.8 160.3 1042.5 C164.1 1018.2 168.8 997 172.3 976.2 C175.8 955.5 180 927.7 181.5 918Z" fill="#000" stroke="#000" stroke-width="1.5" />
<path d="M515.5 916 C518.1 923.8 526 946.3 531.3 963 C536.6 979.7 542.4 996.1 547.2 1016 C552.1 1035.9 556.6 1060.1 560.4 1082.2 C564.1 1104.3 567.4 1126.4 569.7 1148.5 C572 1170.6 573.5 1192.6 574.2 1214.7 C574.9 1236.8 574.7 1261.1 573.7 1281 C572.7 1300.9 571.9 1315.9 568.4 1334 C564.9 1352.1 555.4 1379.7 552.5 1389.7 C549.6 1399.7 551.2 1393.3 551 1394 L525 1394 C525.2 1393.3 522.8 1399.7 526 1389.7 C529.2 1379.7 540.3 1352.1 544.5 1334 C548.7 1315.9 549.9 1300.9 551.2 1281 C552.5 1261.1 552.7 1236.8 552.5 1214.7 C552.3 1192.6 551.1 1170.6 549.8 1148.5 C548.5 1126.4 546.8 1104.3 544.6 1082.2 C542.4 1060.1 539.9 1035.9 536.6 1016 C533.3 996.1 528.6 979.3 524.7 963 C520.9 946.7 515.4 925.5 513.5 918Z" fill="#000" stroke="#000" stroke-width="1.5" />
<path d="M257.2 1392.3 C260.1 1386.4 268.1 1373.3 274.7 1357.1 C281.2 1340.9 289.7 1315.7 296.4 1295 C303.1 1274.2 309.6 1253.5 315 1232.8 C320.5 1212.1 324.9 1188.8 329 1170.7 C333.2 1152.6 336.8 1137.3 339.9 1124.1 C343 1110.9 346.4 1096.9 347.7 1091.5" fill="none" stroke="#000" stroke-width="5.3" />
<path d="M347.7 1091.5 C349 1096.9 352.1 1110.9 355.4 1124.1 C358.8 1137.3 363.5 1152.6 367.9 1170.7 C372.3 1188.8 376.4 1212.1 381.8 1232.8 C387.3 1253.5 394 1275.3 400.5 1295 C407 1314.6 414.2 1334.6 420.7 1350.9 C427.2 1367.1 436.4 1385.4 439.5 1392.3" fill="none" stroke="#000" stroke-width="5.3" />
<path d="M180.5 877.8 C190.4 879 220.1 883 239.9 884.8 C259.7 886.5 281.3 887.6 299.3 888.3 C317.3 889 331.9 889 348 889 C364.1 889 377.1 889.2 396 888.3 C414.9 887.4 441.5 885.4 461.3 883.6 C481.1 881.9 506 878.8 514.9 877.8 L513.7 915.1 C505 915.9 479.8 918.5 461.3 919.8 C442.9 921.1 421.8 922.2 403 922.8 C384.2 923.4 365.4 923.3 348.3 923.3 C331.2 923.3 318.6 923.4 300.5 922.8 C282.4 922.2 259.9 921.1 239.9 919.8 C219.9 918.5 190.4 915.9 180.5 915.1Z" fill="#fff" stroke="#000" stroke-width="5.3" stroke-linejoin="miter"/>
<path d="M299.3 886.3 L396 886.3 L396 909.4 L299.3 909.4Z" fill="#000" stroke="#000" stroke-width="1" />
<path d="M290.1 925.2 C289.9 931.3 288.9 950.1 289 962 C289.1 973.9 289.5 985 290.7 996.5 C291.9 1008 293.5 1020.5 296.4 1031 C299.3 1041.5 303.2 1051.7 308 1059.7 C312.8 1067.8 318.5 1074.4 325.2 1079.3 C331.9 1084.2 344.4 1087.4 348.2 1089" fill="none" stroke="#000" stroke-width="5.3" />
<path d="M408 925.2 C408 931.3 408.6 950.1 408 962 C407.4 973.9 406.4 985 404.5 996.5 C402.6 1008 399.9 1020.5 396.5 1031 C393.1 1041.5 388.4 1051.7 383.8 1059.7 C379.2 1067.8 374.8 1074.4 368.9 1079.3 C363 1084.2 351.6 1087.4 348.2 1089" fill="none" stroke="#000" stroke-width="5.3" />
<path d="M328.8 936.7 L366.6 968.9 M366.6 936.7 L328.8 968.9" fill="none" stroke="#000" stroke-width="4.6" />
<circle cx="328.8" cy="936.7" r="6.3" fill="#000"/>
<circle cx="366.6" cy="936.7" r="6.3" fill="#000"/>
<circle cx="328.8" cy="968.9" r="6.3" fill="#000"/>
<circle cx="366.6" cy="968.9" r="6.3" fill="#000"/>
<path d="M333.2 994.2 L363.7 1020 M363.7 994.2 L333.2 1020" fill="none" stroke="#000" stroke-width="4.6" />
<circle cx="333.2" cy="994.2" r="5.2" fill="#000"/>
<circle cx="363.7" cy="994.2" r="5.2" fill="#000"/>
<circle cx="333.2" cy="1020" r="5.2" fill="#000"/>
<circle cx="363.7" cy="1020" r="5.2" fill="#000"/>
<path d="M335.5 1046 L362.6 1069 M362.6 1046 L335.5 1069" fill="none" stroke="#000" stroke-width="4.6" />
<circle cx="335.5" cy="1046" r="4.6" fill="#000"/>
<circle cx="362.6" cy="1046" r="4.6" fill="#000"/>
<circle cx="335.5" cy="1069" r="4.6" fill="#000"/>
<circle cx="362.6" cy="1069" r="4.6" fill="#000"/>
<path d="M145.5 1392.5 L256.4 1392.5 L256.4 1411.2 Q256.4 1423.2 244.4 1423.2 L157.5 1423.2 Q145.5 1423.2 145.5 1411.2 Z" fill="#fff" stroke="#000" stroke-width="5.1" stroke-linejoin="miter"/>
<path d="M439.5 1392.5 L549.2 1392.5 L549.2 1411.2 Q549.2 1423.2 537.2 1423.2 L451.5 1423.2 Q439.5 1423.2 439.5 1411.2 Z" fill="#fff" stroke="#000" stroke-width="5.1" stroke-linejoin="miter"/>
<path d="M317.1 1602.3 C319.6 1600.8 327.5 1596.8 332 1593.4 C336.5 1589.9 340.7 1587.9 343.9 1581.5 C347.1 1575 349.6 1565.2 351.4 1554.7 C353.1 1544.1 353.8 1524.4 354.3 1518.3 C364 1519 392.8 1522 412.4 1522.5 C432 1523 462 1521.5 471.9 1521.3 L485.3 1605.3 L480.9 1658.9 L321.6 1658.9Z" fill="#fff" stroke="none"/>
<path d="M317.1 1602.3 C319.6 1600.8 327.5 1596.8 332 1593.4 C336.5 1589.9 340.7 1587.9 343.9 1581.5 C347.1 1575 349.6 1565.2 351.4 1554.7 C353.1 1544.1 353.8 1524.4 354.3 1518.3 C364 1519 392.8 1522 412.4 1522.5 C432 1523 462 1521.5 471.9 1521.3 L485.3 1605.3" fill="none" stroke="#000" stroke-width="4.5" stroke-linejoin="miter"/>
<path d="M81.9 1708.9 C82.2 1707 81.7 1700.6 83.4 1697.6 C85.1 1694.6 87.3 1693.3 92 1691 C96.8 1688.8 104.4 1686 112 1684.2 C119.5 1682.3 128.9 1681.5 137.3 1680 C145.7 1678.5 154.2 1677 162.6 1674.9 C171 1672.9 179.5 1670.4 187.9 1667.5 C196.3 1664.6 204.5 1660.9 212.9 1657.4 C221.3 1653.9 229.8 1650.2 238.2 1646.4 C246.7 1642.5 255.1 1638.7 263.5 1634.5 C272 1630.2 279.9 1626.4 288.8 1621.1 C297.8 1615.7 312.4 1605.4 317.1 1602.3 C318 1602.9 320 1602.4 322.5 1605.9 C325 1609.3 328.4 1619.5 332 1623.1 C335.6 1626.8 338 1627.4 343.9 1627.6 C349.9 1627.9 360 1627.1 367.7 1624.6 C375.4 1622.2 381.1 1617.2 390.1 1613 C399 1608.8 412.9 1603.5 421.6 1599.3 C430.4 1595.2 436.7 1590.3 442.5 1588 C448.2 1585.7 451.8 1585.3 456.2 1585.3 C460.5 1585.4 465 1586.5 468.7 1588.3 C472.3 1590.1 475.6 1593.1 478.2 1596.3 C480.8 1599.6 482.5 1604.3 484.4 1607.7 C486.4 1611 488.1 1612.8 489.8 1616.3 C491.5 1619.8 493.1 1624.3 494.9 1628.8 C496.6 1633.3 498.6 1638.3 500.2 1643.4 C501.8 1648.4 503.4 1653.9 504.4 1659.2 C505.4 1664.4 505.9 1669.7 506.5 1674.9 C507.1 1680.2 507.6 1686.7 508 1690.7 C508.3 1694.7 508.5 1697.7 508.6 1699.1 C509.3 1700.8 511.8 1705.6 512.7 1709.5 C513.7 1713.4 514.5 1718.1 514.4 1722.3 C514.2 1726.5 513.3 1731.5 511.8 1734.8 C510.4 1738.1 508.3 1740.1 505.5 1742.2 C502.7 1744.3 498.9 1745.6 495 1747.3 C491.2 1749 485.5 1750.9 482.4 1752.7 C479.2 1754.4 477.8 1755.7 476.1 1758 C474.4 1760.3 473.3 1764.6 471.9 1766.3 C470.6 1768.1 468.5 1768.1 467.8 1768.4 L467.8 1768.4 L456.9 1768.4 Q452.9 1768.4 451 1764.9 L448.2 1759.7 Q446.6 1756.8 443.5 1755.8 L443.5 1755.8 Q440.4 1754.7 438.3 1757.3 L433.7 1763.1 Q432 1765.2 430 1766.8 L430 1766.8 Q427.9 1768.4 425.2 1768.4 L414.9 1768.4 Q410.9 1768.4 408.7 1765.1 L404.8 1759.3 Q402.6 1755.9 399 1754.1 L393.6 1751.2 Q390.1 1749.4 386.1 1749.3 L342 1748.3 Q338 1748.2 334 1748.2 L288.4 1748.2 Q284.4 1748.2 280.7 1749.8 L271.6 1754 Q268 1755.6 266.7 1759.4 L264.8 1765.2 Q263.5 1769 259.5 1769 L242.2 1769 Q238.2 1769 236.6 1765.4 L233.9 1759.3 Q232.3 1755.6 228.4 1754.5 L225.7 1753.8 Q221.8 1752.7 217.8 1752.8 L205 1753.4 Q201 1753.5 199.5 1757.3 L198 1760.9 Q196.5 1764.6 192.5 1764.6 L176.7 1764.6 Q172.7 1764.6 170.9 1761 L168.6 1756.2 Q166.8 1752.7 163.1 1751.1 L160 1749.8 Q156.3 1748.2 152.4 1748.7 L148.4 1749.2 Q144.4 1749.7 142.6 1753.3 L141.8 1755 Q140 1758.6 136 1757.8 L121.6 1754.9 Q117.6 1754.1 116.4 1750.3 L115.9 1749 Q114.7 1745.2 112.5 1741.9 L112.4 1741.7 Q110.2 1738.4 106.9 1736.1 L98.6 1730.5 Q95.3 1728.2 92.2 1725.7 L88.3 1722.4 Q85.2 1719.9 84 1716.1 L81.9 1708.9Z" fill="#fff" stroke="#000" stroke-width="4.5" stroke-linejoin="round"/>
<path d="M84.9 1718.4 C92.3 1720.2 112.2 1725.5 129.5 1728.8 C146.9 1732.2 169.2 1736.8 189.1 1738.7 C208.9 1740.5 228.8 1740.6 248.6 1739.9 C268.5 1739.1 290.8 1735.6 308.2 1733.9 C325.6 1732.2 339.2 1729.8 352.8 1729.4 C366.5 1729.1 378.6 1730.7 390.1 1731.8 C401.5 1732.9 411.2 1735.5 421.6 1736 C432.1 1736.5 444.2 1736 452.9 1734.8 C461.6 1733.5 467.9 1731.5 474 1728.5 C480.2 1725.6 484.2 1721.8 489.8 1716.9 C495.4 1712 504.7 1702 507.7 1699.1" fill="none" stroke="#000" stroke-width="4.5" />
<path d="M246.2 1641.5 L252.7 1655.8 A7.4 7.4 0 0 1 239.2 1662 L232.6 1647.7" fill="none" stroke="#000" stroke-width="4.5" />
<path d="M273.1 1629.2 L279.6 1641.7 A7.4 7.4 0 0 1 266.5 1648.6 L259.9 1636.1" fill="none" stroke="#000" stroke-width="4.5" />
<path d="M299.7 1615.1 L306.5 1626.4 A7.4 7.4 0 0 1 293.8 1634.1 L286.9 1622.8" fill="none" stroke="#000" stroke-width="4.5" />
<path d="M403.5 1628.2 L480.3 1609.7 L488.3 1627.3 L425.2 1641.9Z" fill="none" stroke="#000" stroke-width="4.5" stroke-linejoin="miter"/>
<path d="M444.6 1650.8 L491.9 1639.8 L497 1657.1 L460.3 1662.7Z" fill="none" stroke="#000" stroke-width="4.5" stroke-linejoin="miter"/>
<path d="M477 1669.3 L499 1666 L502.3 1678.2 L489.8 1679.7Z" fill="none" stroke="#000" stroke-width="4.5" stroke-linejoin="miter"/>
<path d="M493.7 1763.6 C496.2 1762.1 504.1 1758.1 508.6 1754.7 C513.1 1751.2 517.3 1749.2 520.5 1742.8 C523.7 1736.3 526.2 1726.5 528 1716 C529.7 1705.4 530.4 1685.7 530.9 1679.6 C540.6 1680.3 569.4 1683.3 589 1683.8 C608.6 1684.3 638.6 1682.8 648.5 1682.6 L661.9 1766.6 L657.5 1820.2 L498.2 1820.2Z" fill="#fff" stroke="none"/>
<path d="M493.7 1763.6 C496.2 1762.1 504.1 1758.1 508.6 1754.7 C513.1 1751.2 517.3 1749.2 520.5 1742.8 C523.7 1736.3 526.2 1726.5 528 1716 C529.7 1705.4 530.4 1685.7 530.9 1679.6 C540.6 1680.3 569.4 1683.3 589 1683.8 C608.6 1684.3 638.6 1682.8 648.5 1682.6 L661.9 1766.6" fill="none" stroke="#000" stroke-width="4.5" stroke-linejoin="miter"/>
<path d="M258.5 1870.2 C258.8 1868.3 258.3 1861.9 260 1858.9 C261.7 1855.9 263.9 1854.6 268.6 1852.3 C273.4 1850.1 281 1847.3 288.6 1845.5 C296.1 1843.6 305.5 1842.8 313.9 1841.3 C322.3 1839.8 330.8 1838.3 339.2 1836.2 C347.6 1834.2 356.1 1831.7 364.5 1828.8 C372.9 1825.9 381.1 1822.2 389.5 1818.7 C397.9 1815.2 406.4 1811.5 414.8 1807.7 C423.3 1803.8 431.7 1800 440.1 1795.8 C448.6 1791.5 456.5 1787.7 465.4 1782.4 C474.4 1777 489 1766.7 493.7 1763.6 C494.6 1764.2 496.6 1763.7 499.1 1767.2 C501.6 1770.6 505 1780.8 508.6 1784.4 C512.2 1788.1 514.6 1788.7 520.5 1788.9 C526.5 1789.2 536.6 1788.4 544.3 1785.9 C552 1783.5 557.7 1778.5 566.7 1774.3 C575.6 1770.1 589.5 1764.8 598.2 1760.6 C607 1756.5 613.3 1751.6 619.1 1749.3 C624.8 1747 628.4 1746.6 632.8 1746.6 C637.1 1746.7 641.6 1747.8 645.3 1749.6 C648.9 1751.4 652.2 1754.4 654.8 1757.6 C657.4 1760.9 659.1 1765.6 661 1769 C663 1772.3 664.7 1774.1 666.4 1777.6 C668.1 1781.1 669.7 1785.6 671.5 1790.1 C673.2 1794.6 675.2 1799.6 676.8 1804.7 C678.4 1809.7 680 1815.2 681 1820.5 C682 1825.7 682.5 1831 683.1 1836.2 C683.7 1841.5 684.2 1848 684.6 1852 C684.9 1856 685.1 1859 685.2 1860.4 C685.9 1862.1 688.4 1866.9 689.3 1870.8 C690.3 1874.7 691.1 1879.4 691 1883.6 C690.8 1887.8 689.9 1892.8 688.4 1896.1 C687 1899.4 684.9 1901.4 682.1 1903.5 C679.3 1905.6 675.5 1906.9 671.6 1908.6 C667.8 1910.3 662.1 1912.2 659 1914 C655.8 1915.7 654.4 1917 652.7 1919.3 C651 1921.6 649.9 1925.9 648.5 1927.6 C647.2 1929.4 645.1 1929.4 644.4 1929.7 L644.4 1929.7 L633.5 1929.7 Q629.5 1929.7 627.6 1926.2 L624.8 1921 Q623.2 1918.1 620.1 1917.1 L620.1 1917.1 Q617 1916 614.9 1918.6 L610.3 1924.4 Q608.6 1926.5 606.6 1928.1 L606.6 1928.1 Q604.5 1929.7 601.8 1929.7 L591.5 1929.7 Q587.5 1929.7 585.3 1926.4 L581.4 1920.6 Q579.2 1917.2 575.6 1915.4 L570.2 1912.5 Q566.7 1910.7 562.7 1910.6 L518.6 1909.6 Q514.6 1909.5 510.6 1909.5 L465 1909.5 Q461 1909.5 457.3 1911.1 L448.2 1915.3 Q444.6 1916.9 443.3 1920.7 L441.4 1926.5 Q440.1 1930.3 436.1 1930.3 L418.8 1930.3 Q414.8 1930.3 413.2 1926.7 L410.5 1920.6 Q408.9 1916.9 405 1915.8 L402.3 1915.1 Q398.4 1914 394.4 1914.1 L381.6 1914.7 Q377.6 1914.8 376.1 1918.6 L374.6 1922.2 Q373.1 1925.9 369.1 1925.9 L353.3 1925.9 Q349.3 1925.9 347.5 1922.3 L345.2 1917.5 Q343.4 1914 339.7 1912.4 L336.6 1911.1 Q332.9 1909.5 329 1910 L325 1910.5 Q321 1911 319.2 1914.6 L318.4 1916.3 Q316.6 1919.9 312.6 1919.1 L298.2 1916.2 Q294.2 1915.4 293 1911.6 L292.5 1910.3 Q291.3 1906.5 289.1 1903.2 L289 1903 Q286.8 1899.7 283.5 1897.4 L275.2 1891.8 Q271.9 1889.5 268.8 1887 L264.9 1883.7 Q261.8 1881.2 260.6 1877.4 L258.5 1870.2Z" fill="#fff" stroke="#000" stroke-width="4.5" stroke-linejoin="round"/>
<path d="M261.5 1879.7 C268.9 1881.5 288.8 1886.8 306.1 1890.1 C323.5 1893.5 345.8 1898.1 365.7 1900 C385.5 1901.8 405.4 1901.9 425.2 1901.2 C445.1 1900.4 467.4 1896.9 484.8 1895.2 C502.2 1893.5 515.8 1891.1 529.4 1890.7 C543.1 1890.4 555.2 1892 566.7 1893.1 C578.1 1894.2 587.8 1896.8 598.2 1897.3 C608.7 1897.8 620.8 1897.3 629.5 1896.1 C638.2 1894.8 644.5 1892.8 650.6 1889.8 C656.8 1886.9 660.8 1883.1 666.4 1878.2 C672 1873.3 681.3 1863.3 684.3 1860.4" fill="none" stroke="#000" stroke-width="4.5" />
<path d="M422.8 1802.8 L429.3 1817.1 A7.4 7.4 0 0 1 415.8 1823.3 L409.2 1809" fill="none" stroke="#000" stroke-width="4.5" />
<path d="M449.7 1790.5 L456.2 1803 A7.4 7.4 0 0 1 443.1 1809.9 L436.5 1797.4" fill="none" stroke="#000" stroke-width="4.5" />
<path d="M476.3 1776.4 L483.1 1787.7 A7.4 7.4 0 0 1 470.4 1795.4 L463.5 1784.1" fill="none" stroke="#000" stroke-width="4.5" />
<path d="M580.1 1789.5 L656.9 1771 L664.9 1788.6 L601.8 1803.2Z" fill="none" stroke="#000" stroke-width="4.5" stroke-linejoin="miter"/>
<path d="M621.2 1812.1 L668.5 1801.1 L673.6 1818.4 L636.9 1824Z" fill="none" stroke="#000" stroke-width="4.5" stroke-linejoin="miter"/>
<path d="M653.6 1830.6 L675.6 1827.3 L678.9 1839.5 L666.4 1841Z" fill="none" stroke="#000" stroke-width="4.5" stroke-linejoin="miter"/>
<path d="M1349.5 1782.6 C1350.1 1783.8 1349.5 1785.6 1353.1 1789.8 C1356.7 1794 1365.2 1802.2 1371.2 1807.9 C1377.3 1813.7 1382.7 1819.1 1389.4 1824.2 C1396 1829.4 1405.1 1833.3 1411.1 1838.7 C1417.1 1844.2 1420.8 1850.8 1425.6 1856.9 C1430.4 1862.9 1436.2 1870.2 1440.1 1875 C1444 1879.8 1447.6 1884 1449.2 1885.9" fill="none" stroke="#000" stroke-width="4.6" />
<path d="M1313.2 1788 C1319.6 1788 1345 1788 1351.3 1788" fill="none" stroke="#000" stroke-width="4.6" />
<path d="M1364 1827.9 L1391.2 1822.4 L1411.1 1838.7 L1383.9 1847.8" fill="none" stroke="#000" stroke-width="4.6" />
<path d="M1244.4 1829.7 C1242.3 1830.3 1234.4 1831.8 1231.7 1833.3 C1229 1834.8 1228.1 1836.6 1228.1 1838.7 C1228.1 1840.9 1227.5 1843.9 1231.7 1846 C1235.9 1848.1 1245.3 1849.9 1253.4 1851.4 C1261.6 1852.9 1276.1 1854.4 1280.6 1855" fill="none" stroke="#000" stroke-width="4.6" />
<path d="M1423.6 1647.3 C1427 1650.8 1438.6 1662 1444.3 1668 C1450 1674 1454.2 1677.5 1457.7 1683.6 C1461.2 1689.6 1463.5 1698.2 1465 1704.3 C1466.5 1710.4 1467.5 1714 1467 1720 C1466.5 1726 1464.5 1734.3 1462 1740 C1459.5 1745.7 1455.8 1750.5 1452 1754 C1448.2 1757.5 1444.9 1758.8 1439.3 1761.2 C1433.7 1763.7 1426.8 1766.5 1418.4 1768.7 C1410 1770.9 1399.9 1773.1 1388.7 1774.6 C1377.5 1776.1 1362.9 1777.5 1351.4 1777.6 C1340 1777.7 1330 1775.7 1320 1775 C1310 1774.3 1296.2 1773.8 1291.5 1773.5" fill="none" stroke="#000" stroke-width="4.6" />
<path d="M1393.9 1671.2 C1396.1 1673.4 1403.3 1678.8 1407.3 1684.6 C1411.3 1690.4 1415.7 1699.5 1417.7 1706.2 C1419.7 1712.9 1419.8 1719.2 1419.2 1724.8 C1418.6 1730.4 1417.5 1735.4 1414 1739.6 C1410.5 1743.8 1406.9 1747.2 1398.3 1750.1 C1389.7 1753 1375.4 1756 1362.6 1757.1 C1349.8 1758.2 1336 1757.8 1321.7 1756.8 C1307.4 1755.8 1290.7 1752.5 1277 1750.8 C1263.3 1749 1249.5 1746.7 1239.8 1746.3 C1230.1 1745.9 1222.4 1748.2 1218.9 1748.6" fill="none" stroke="#000" stroke-width="10.5" stroke-linecap="butt"/>
<path d="M1393.9 1671.2 C1396.1 1673.4 1403.3 1678.8 1407.3 1684.6 C1411.3 1690.4 1415.7 1699.5 1417.7 1706.2 C1419.7 1712.9 1419.8 1719.2 1419.2 1724.8 C1418.6 1730.4 1417.5 1735.4 1414 1739.6 C1410.5 1743.8 1406.9 1747.2 1398.3 1750.1 C1389.7 1753 1375.4 1756 1362.6 1757.1 C1349.8 1758.2 1336 1757.8 1321.7 1756.8 C1307.4 1755.8 1290.7 1752.5 1277 1750.8 C1263.3 1749 1246 1747 1239.8 1746.3" fill="none" stroke="#fff" stroke-width="1.3" stroke-linecap="butt"/>
<path d="M1216.5 1748.6 C1218.1 1750 1222.6 1754.2 1226 1757 C1229.4 1759.8 1235 1764.2 1236.8 1765.7" fill="none" stroke="#000" stroke-width="4.6" />
<path d="M1321.4 1477 C1323.1 1478.3 1330.1 1483.4 1331.8 1484.7" fill="none" stroke="#000" stroke-width="4.6" />
<path d="M1331.8 1484.7 C1334.2 1487.9 1339.5 1494.4 1346 1504.1 C1352.5 1513.8 1363.3 1531.1 1370.6 1543 C1377.9 1554.9 1385 1565.8 1390 1575.3 C1395 1584.8 1399 1595.6 1400.8 1599.7" fill="none" stroke="#000" stroke-width="4.6" />
<path d="M1333.5 1633.9 C1338.1 1632.1 1352.4 1626.9 1361.4 1623.5 C1370.4 1620 1380.2 1617.1 1387.3 1613.1 C1394.4 1609.2 1401.1 1601.9 1403.9 1599.7" fill="none" stroke="#000" stroke-width="4.6" />
<path d="M1403.9 1599.7 L1418.9 1618.3 L1416.3 1621.4" fill="none" stroke="#000" stroke-width="4.6" />
<path d="M1340.7 1654.6 C1345 1653.4 1358 1650.4 1366.6 1647.3 C1375.2 1644.2 1384.2 1640.2 1392.5 1635.9 C1400.8 1631.6 1412.3 1623.8 1416.3 1621.4" fill="none" stroke="#000" stroke-width="4.6" />
<path d="M1413.2 1626.6 C1414.8 1629.9 1421 1643 1422.5 1646.3" fill="none" stroke="#000" stroke-width="4.6" />
<path d="M1342.8 1678.4 C1346.8 1677.9 1358.3 1677.2 1366.6 1675.3 C1374.9 1673.4 1383 1671.1 1392.5 1667 C1402 1662.8 1418.4 1653.2 1423.6 1650.4" fill="none" stroke="#000" stroke-width="4.6" />
<path d="M1279.3 1518.1 C1281.5 1521.4 1288 1529.4 1292.3 1537.5 C1296.6 1545.6 1300.6 1556.3 1305.2 1566.7 C1309.8 1577.1 1315.2 1589.1 1319.8 1600 C1324.3 1610.9 1329.1 1622.7 1332.4 1631.8 C1335.7 1640.9 1338 1648.5 1339.7 1654.6 C1341.4 1660.6 1342.4 1664.1 1342.8 1668 C1343.2 1672 1343 1675.8 1342.3 1678.4 C1341.6 1681 1342.4 1681.3 1338.6 1683.6 C1334.9 1685.8 1328.1 1689.1 1320 1691.8 C1311.9 1694.6 1300.9 1697.2 1290 1699.8 C1279.1 1702.4 1260.3 1706.3 1254.4 1707.6" fill="none" stroke="#000" stroke-width="4.6" />
<path d="M1154.7 1508.4 C1158 1511.9 1168.2 1521.9 1174.1 1529.4 C1180.1 1537 1185.6 1546.5 1190.3 1553.7 C1195.1 1561 1197.8 1565.9 1202.6 1572.9 C1207.5 1580 1213.4 1588.7 1219.4 1596.2 C1225.5 1603.8 1231.7 1609.8 1238.9 1618.3 C1246 1626.7 1255.9 1639.6 1262.2 1646.7 C1268.4 1653.9 1274 1658.6 1276.4 1661" fill="none" stroke="#000" stroke-width="4.6" />
<path d="M1276.4 1661 L1264.8 1676.5 L1257 1688.2" fill="none" stroke="#000" stroke-width="4.6" />
<path d="M1257 1688.2 C1256.3 1689.9 1253.5 1695.3 1253.1 1698.5 C1252.7 1701.7 1254.2 1706.1 1254.4 1707.6" fill="none" stroke="#000" stroke-width="4.6" />
<path d="M1201.7 1565 C1207.3 1561.8 1223.8 1553.2 1235.6 1545.6 C1247.5 1538.1 1266.6 1524.1 1272.8 1519.7" fill="none" stroke="#000" stroke-width="4.6" />
<path d="M1194.9 1650.6 C1206.1 1650.3 1250.9 1649 1262.2 1648.7" fill="none" stroke="#000" stroke-width="4.6" />
<path d="M1203.9 1671.3 C1212.1 1675.4 1244.9 1691.8 1253.1 1695.9" fill="none" stroke="#000" stroke-width="4.6" />
<path d="M1185.8 1719.2 C1191.4 1717.5 1208.2 1712.2 1219.4 1708.9 C1230.7 1705.5 1247.5 1700.8 1253.1 1699.2" fill="none" stroke="#000" stroke-width="4.6" />
<path d="M1193.6 1692 C1195.7 1693.3 1202.2 1697 1206.5 1699.8 C1210.8 1702.6 1217.3 1707.4 1219.4 1708.9" fill="none" stroke="#000" stroke-width="4.6" />
<path d="M1091.3 1571.7 C1091.7 1574 1091.9 1580.7 1093.9 1585.9 C1095.8 1591.1 1098.2 1595.8 1102.9 1602.7 C1107.7 1609.6 1115.9 1620.2 1122.4 1627.3 C1128.8 1634.4 1136 1640.7 1141.8 1645.4 C1147.6 1650.2 1154.7 1654.1 1157.3 1655.8" fill="none" stroke="#000" stroke-width="4.6" />
<path d="M1149.5 1567.8 C1149.5 1570.4 1148.3 1577.5 1149.5 1583.3 C1150.8 1589.1 1153.4 1596.2 1157.3 1602.7 C1161.2 1609.2 1168.1 1616.5 1172.8 1622.1 C1177.6 1627.7 1182.6 1631.8 1185.8 1636.4 C1189 1640.9 1191.2 1647.2 1192.3 1649.3" fill="none" stroke="#000" stroke-width="4.6" />
<path d="M1158.6 1653.2 C1160.6 1648 1166.2 1641.6 1170.3 1639 C1174.4 1636.4 1179.5 1635.9 1183.2 1637.7 C1186.9 1639.4 1189.5 1645.4 1192.3 1649.3 C1195.1 1653.2 1198.3 1658.2 1200 1661 C1201.8 1663.8 1202 1663.3 1202.6 1666.1 C1203.3 1669 1204.3 1675.4 1203.9 1677.8 C1203.5 1680.2 1201.4 1681 1200 1680.4 C1198.6 1679.7 1196.6 1673.5 1195.5 1673.9 C1194.4 1674.3 1194.1 1679.1 1193.6 1683 C1193 1686.9 1193.8 1692.7 1192.3 1697.2 C1190.8 1701.7 1187.5 1708 1184.5 1710.2 C1181.5 1712.3 1177.2 1712.5 1174.1 1710.2 C1171.1 1707.8 1168.5 1700.5 1166.4 1695.9 C1164.2 1691.4 1162.5 1687.3 1161.2 1683 C1159.9 1678.7 1159 1675 1158.6 1670 C1158.2 1665.1 1156.7 1658.4 1158.6 1653.2Z" fill="#fff" stroke="#000" stroke-width="4.6" />
<path d="M1141.8 1653.2 C1138.5 1652.3 1128.2 1647.6 1122.4 1648 C1116.5 1648.5 1110.3 1651 1106.8 1655.8 C1103.4 1660.5 1101.7 1668.7 1101.7 1676.5 C1101.7 1684.3 1103.4 1695.1 1106.8 1702.4 C1110.3 1709.7 1116.5 1716.2 1122.4 1720.5 C1128.2 1724.8 1138.5 1727 1141.8 1728.3" fill="none" stroke="#000" stroke-width="4.6" />
<path d="M1140.5 1653.2 C1141.6 1657.1 1146.1 1668.3 1147 1676.5 C1147.8 1684.7 1146.5 1693.8 1145.7 1702.4 C1144.8 1711 1142.4 1724 1141.8 1728.3" fill="none" stroke="#000" stroke-width="4.6" />
<path d="M1141.8 1655.1 L1158.6 1656.4" fill="none" stroke="#000" stroke-width="6" />
<path d="M1149.5 1694.6 C1151.5 1693.8 1159.3 1690.3 1161.2 1689.4" fill="none" stroke="#000" stroke-width="4.6" />
<path d="M1128.8 1725.7 C1133.1 1729.1 1150.4 1743 1154.7 1746.4" fill="none" stroke="#000" stroke-width="4.6" />
<path d="M1154.7 1746.4 C1155.5 1741 1157.8 1730.5 1162.5 1725.7 C1167.2 1721 1177 1716.4 1183.2 1717.9 C1189.5 1719.4 1195 1727.8 1200 1734.8 C1205 1741.8 1209.5 1753.5 1213 1760 C1216.5 1766.5 1220.1 1770 1220.8 1773.5 C1221.5 1777 1222.3 1778.9 1217.2 1780.7 C1212.1 1782.5 1197.9 1785.5 1190 1784.4 C1182.1 1783.3 1175.4 1778.4 1170 1774 C1164.6 1769.6 1160.2 1762.6 1157.7 1758 C1155.2 1753.4 1153.9 1751.8 1154.7 1746.4Z" fill="#fff" stroke="#000" stroke-width="4.6" />
<path d="M1220.8 1773.5 C1224.4 1771.7 1238.9 1764.4 1242.6 1762.6" fill="none" stroke="#000" stroke-width="4.6" />
<path d="M1208.1 1797.1 C1209.6 1795.5 1212.7 1792.5 1217.2 1788 C1221.7 1783.5 1229.3 1773.9 1235.3 1769.9 C1241.3 1765.8 1247.4 1764.1 1253.4 1763.5 C1259.5 1762.9 1265.2 1764.6 1271.6 1766.2 C1277.9 1767.9 1285.4 1770.2 1291.5 1773.5 C1297.5 1776.8 1303.6 1782.3 1307.8 1786.2 C1312 1790.1 1314.1 1793.4 1316.9 1797.1 C1319.6 1800.7 1322.9 1806.1 1324.1 1807.9 C1327.4 1809.4 1337.4 1813.4 1344 1817 C1350.7 1820.6 1357.9 1825.1 1364 1829.7 C1370 1834.2 1376.7 1840.9 1380.3 1844.2 C1383.9 1847.5 1381.2 1846.9 1385.7 1849.6 C1390.3 1852.3 1400.8 1856.3 1407.5 1860.5 C1414.1 1864.7 1421.4 1870.8 1425.6 1875 C1429.8 1879.2 1431 1882.8 1432.8 1885.9 C1434.7 1888.9 1435.9 1891.9 1436.5 1893.1 L1451 1885.9 L1451 1920.3 C1437.7 1922.1 1390.6 1930 1371.2 1931.2 C1351.9 1932.4 1343.1 1929.4 1335 1927.5 C1326.8 1925.7 1324.1 1923 1322.3 1920.3 C1320.5 1917.6 1323.8 1912.7 1324.1 1911.2 L1353.1 1900.4 L1364 1885.9 C1357.6 1883.4 1339.2 1876.8 1325.9 1871.4 C1312.6 1865.9 1297.8 1860.5 1284.2 1853.2 C1270.6 1846 1257.1 1837.2 1244.4 1827.9 C1231.7 1818.5 1214.2 1802.2 1208.1 1797.1Z" fill="#fff" stroke="#000" stroke-width="4.6" />
<path d="M1353.1 1904 C1354.6 1904.9 1357.6 1909 1362.2 1909.4 C1366.7 1909.9 1374.3 1907.3 1380.3 1906.7 C1386.3 1906.1 1390.9 1908.1 1398.4 1905.8 C1406 1903.5 1419.9 1896.1 1425.6 1893.1 C1431.3 1890.1 1431.6 1888.6 1432.8 1887.7" fill="none" stroke="#000" stroke-width="4.6" />
<path d="M1200 1461.5 C1198.4 1463.4 1192.3 1469 1190.3 1472.8 C1188.3 1476.6 1187.4 1480.1 1187.9 1484.1 C1188.4 1488.2 1189.6 1493 1193.6 1497.1 C1197.5 1501.1 1204.3 1505.2 1211.4 1508.4 C1218.4 1511.7 1227.5 1514.9 1235.6 1516.5 C1243.7 1518.1 1251.8 1518.9 1259.9 1518.1 C1268 1517.3 1276.1 1515.2 1284.2 1511.7 C1292.3 1508.1 1302.5 1501.9 1308.4 1497.1 C1314.4 1492.2 1317.2 1487.4 1319.8 1482.5 C1322.3 1477.7 1323.8 1472.8 1323.8 1468 C1323.8 1463.1 1323.7 1458.8 1319.8 1453.4 C1315.9 1448 1309 1440.7 1300.4 1435.6 C1291.7 1430.5 1278.8 1425.2 1268 1422.7 C1257.2 1420.1 1241 1420.6 1235.6 1420.2" fill="#fff" stroke="#000" stroke-width="4.6" />
<path d="M1232.4 1422.7 C1232.9 1423.7 1235.9 1426.4 1235.6 1429.1 C1235.4 1431.8 1233.5 1436.4 1230.8 1438.8 C1228.1 1441.3 1223 1442.6 1219.4 1443.7 C1215.9 1444.8 1211.4 1445 1209.7 1445.3" fill="none" stroke="#000" stroke-width="4.6" />
<path d="M1290.4 1535.2 C1294.1 1533.7 1305.5 1529.5 1312.4 1526.1 C1319.3 1522.6 1326.4 1518 1331.8 1514.5 C1337.2 1511 1342.5 1506.9 1344.7 1505.4" fill="none" stroke="#000" stroke-width="4.6" />
<path d="M1330.5 1485 C1333.1 1488.2 1343.4 1500.9 1346 1504.1" fill="none" stroke="#000" stroke-width="4.6" />
<path d="M1309.8 1499 C1312 1497.9 1319.2 1494.5 1322.7 1492.5 C1326.2 1490.5 1329.2 1488.2 1330.5 1487.3" fill="none" stroke="#000" stroke-width="4.6" />
<path d="M999.2 1531.1 C1006.2 1530.7 1026.8 1529.8 1040.9 1528.9 C1054.9 1528 1071.1 1527 1083.6 1525.7 C1096.1 1524.5 1105 1524.1 1115.6 1521.5 C1126.3 1518.8 1135.9 1514.9 1147.7 1509.7 C1159.4 1504.5 1187.6 1489.9 1186.1 1490.5 C1184.6 1491.1 1143.2 1510.6 1138.5 1513.3 C1133.9 1516 1150.1 1510.6 1158 1506.8 C1165.8 1503 1180.9 1493.3 1185.5 1490.6" fill="none" stroke="#000" stroke-width="4.6" />
<path d="M1001.4 1561 C1008 1562.4 1027.2 1567.8 1040.9 1569.5 C1054.6 1571.2 1068.9 1572 1083.6 1571.5 C1098.2 1571 1113.7 1568.8 1128.8 1566.5 C1143.9 1564.2 1164.2 1560.4 1174.1 1558 C1184 1555.6 1185.7 1553.1 1188 1552.1" fill="none" stroke="#000" stroke-width="4.6" />
<path d="M999.2 1531.1 C997.1 1525.7 994.1 1519.7 989.6 1514 C985.2 1508.3 978.9 1502.2 972.5 1496.9 C966.1 1491.6 959.4 1486 951.2 1481.9 C943 1477.8 932.3 1474.1 923.4 1472.3 C914.5 1470.6 904.2 1470.4 897.8 1471.3 C891.4 1472.2 887.1 1474.5 885 1477.7 C882.8 1480.9 883.2 1485.9 885 1490.5 C886.7 1495.1 891.2 1500.8 895.6 1505.4 C900.1 1510.1 907.4 1513.3 911.7 1518.3 C915.9 1523.2 918.8 1529.6 921.3 1535.3 C923.8 1541 925.5 1547.1 926.6 1552.4 C927.7 1557.8 928.9 1564.2 927.7 1567.4 C926.4 1570.6 920.9 1569.5 919.1 1571.7 C917.3 1573.8 916.3 1577.3 917 1580.2 C917.7 1583 919.5 1586.6 923.4 1588.7 C927.3 1590.9 933.4 1593.4 940.5 1593 C947.6 1592.7 958.3 1589.8 966.1 1586.6 C973.9 1583.4 981.8 1578.1 987.5 1573.8 C993.2 1569.5 997.8 1565.6 1000.3 1561 C1002.8 1556.3 1002.6 1551 1002.4 1546 C1002.2 1541 1001.4 1536.4 999.2 1531.1Z" fill="#fff" stroke="#000" stroke-width="4.6" />
<path d="M911.7 1518.3 C914.7 1519.7 924.3 1523.6 929.8 1526.8 C935.3 1530 941.2 1533.6 944.8 1537.5 C948.3 1541.4 951.2 1546.7 951.2 1550.3 C951.2 1553.9 948.7 1556 944.8 1558.8 C940.8 1561.7 930.5 1566 927.7 1567.4" fill="none" stroke="#000" stroke-width="4.6" />
<path d="M1145 1438.8 C1147.2 1441.8 1154.7 1451.8 1158 1456.6 C1161.2 1461.5 1162.8 1464.5 1164.4 1468 C1166.1 1471.5 1166.9 1472.8 1167.7 1477.7 C1168.5 1482.5 1169 1493.9 1169.3 1497.1" fill="none" stroke="#000" stroke-width="4.6" />
<path d="M1167.7 1477.7 C1169.3 1477.4 1174.1 1477.1 1177.4 1476.1 C1180.6 1475 1184.4 1473.1 1187.1 1471.2 C1189.8 1469.3 1192.5 1465.8 1193.6 1464.7" fill="none" stroke="#000" stroke-width="4.6" />
<path d="M1143.4 1443.7 L1135.3 1455 L1158 1461.5" fill="none" stroke="#000" stroke-width="4.6" />
<path d="M1114.3 1519.7 L1159.6 1468 L1164.8 1471.2 L1120.7 1518.1Z" fill="#000" stroke="#000" stroke-width="1.5" />
<path d="M1114.5 1350.7 C1114.9 1346.4 1113.8 1333.7 1117.2 1324.9 C1120.6 1316 1128.1 1304.2 1134.9 1297.7 C1141.7 1291.1 1149.6 1287.9 1158 1285.4 C1166.3 1282.9 1176.1 1282.3 1185.1 1282.7 C1194.2 1283.2 1203.3 1284.8 1212.3 1288.2 C1221.4 1291.6 1232 1297.2 1239.5 1303.1 C1247 1309 1253.1 1314.9 1257.2 1323.5 C1261.3 1332.1 1263.1 1345 1264 1354.8 C1264.9 1364.5 1264.4 1374 1262.6 1381.9 C1260.8 1389.9 1257 1396.7 1253.1 1402.3 C1249.3 1408 1243 1413.1 1239.5 1415.9 C1236.1 1418.8 1236.5 1416.1 1232.4 1419.4 C1228.2 1422.7 1219.7 1430.2 1214.6 1435.6 C1209.5 1441 1205.2 1447.2 1201.7 1451.8 C1198.1 1456.4 1194.9 1461.2 1193.6 1463.1" fill="none" stroke="#000" stroke-width="4.6" />
<path d="M1115.9 1347.8 C1118.3 1348.6 1125 1351.8 1130.2 1352.8 C1135.4 1353.8 1140.8 1354.3 1147.1 1353.7 C1153.4 1353.1 1161.1 1351.1 1168.1 1349.4 C1175.1 1347.7 1180.4 1346.9 1189.1 1343.6 C1197.8 1340.2 1215.1 1331.7 1220.3 1329.3" fill="none" stroke="#000" stroke-width="4.3" />
<path d="M1115 1352 C1115.4 1352.5 1115.1 1353.6 1117.6 1355.3 C1120.1 1357 1125.3 1360.8 1130.2 1362.1 C1135.1 1363.4 1140.8 1363.5 1147.1 1362.9 C1153.4 1362.3 1161.1 1360.2 1168.1 1358.7 C1175.1 1357.2 1180.4 1356.9 1189.1 1353.7 C1197.8 1350.5 1215.1 1341.8 1220.3 1339.4" fill="none" stroke="#000" stroke-width="4.3" />
<path d="M1220.3 1329.3 C1220.7 1332 1222.2 1339.7 1222.8 1345.2 C1223.3 1350.7 1223.7 1356.5 1223.6 1362.1 C1223.5 1367.7 1223.1 1373.3 1222 1378.9 C1220.9 1384.5 1219.6 1390.1 1216.9 1395.7 C1214.2 1401.3 1210.6 1407.5 1206 1412.6 C1201.4 1417.6 1194.7 1422.5 1189.1 1426 C1183.5 1429.5 1177.9 1431.9 1172.3 1433.6 C1166.7 1435.3 1160.7 1435.8 1155.5 1436.1 C1150.3 1436.4 1143.6 1435.4 1141.2 1435.3" fill="none" stroke="#000" stroke-width="5.0" />
<path d="M1217.7 1347.8 C1217.6 1350.9 1217.7 1360.4 1216.9 1366.3 C1216.1 1372.2 1214.8 1377.5 1212.7 1383.1 C1210.6 1388.7 1207.5 1394.6 1204.3 1399.9 C1201.1 1405.2 1197.3 1411.1 1193.3 1415.1 C1189.2 1419.1 1184.9 1421.6 1180 1424 C1175.1 1426.4 1166.6 1428.5 1163.9 1429.4" fill="none" stroke="#000" stroke-width="4.3" />
<path d="M1138.7 1378.9 C1141.5 1378.1 1148.5 1376 1155.5 1373.8 C1162.5 1371.5 1174.4 1367.4 1180.7 1365.4 C1187 1363.5 1191.2 1362.6 1193.3 1362.1" fill="none" stroke="#000" stroke-width="4.3" />
<path d="M1120.1 1400.8 C1123.2 1401.6 1132.8 1405 1138.7 1405.8 C1144.6 1406.6 1149.2 1407 1155.5 1405.8 C1161.8 1404.5 1169.5 1401.7 1176.5 1398.3 C1183.5 1394.9 1190.8 1391.1 1197.5 1385.6 C1204.2 1380.1 1213.7 1368.8 1216.9 1365.4" fill="none" stroke="#000" stroke-width="4.3" />
<path d="M1127.7 1416.8 C1130.2 1418.3 1137.6 1424 1142.9 1426 C1148.2 1428 1153.4 1428.9 1159.7 1428.5 C1166 1428.1 1174.4 1426.2 1180.7 1423.5 C1187 1420.8 1191.9 1417.5 1197.5 1412.6 C1203.1 1407.7 1211.6 1397.1 1214.4 1394" fill="none" stroke="#000" stroke-width="4.3" />
<path d="M1119.3 1399.9 C1120.2 1402 1122.2 1408.4 1124.4 1412.6 C1126.7 1416.8 1130 1421.4 1132.8 1425.2 C1135.6 1429 1139.8 1433.6 1141.2 1435.3" fill="none" stroke="#000" stroke-width="4.3" />
<path d="M1118.5 1400 C1120.6 1399 1128.9 1395 1131 1394" fill="none" stroke="#000" stroke-width="4.3" />
<path d="M1147.9 1352 C1147.9 1354 1147.9 1361.8 1147.9 1363.8" fill="none" stroke="#000" stroke-width="4.3" />
<path d="M1184.1 1342.7 C1184.1 1345.9 1183.3 1354 1184.1 1362.1 C1184.9 1370.2 1187.3 1382 1189.1 1391.5 C1190.9 1401 1194 1414.7 1195 1419.3" fill="none" stroke="#000" stroke-width="4.3" />
<path d="M1131.9 1378.1 C1133 1382.4 1136.5 1396.2 1138.7 1404.1 C1141 1411.9 1144.3 1421.7 1145.4 1425.2" fill="none" stroke="#000" stroke-width="4.3" />
<path d="M1153 1408.3 C1154.5 1412.1 1160.7 1427.3 1162.2 1431.1" fill="none" stroke="#000" stroke-width="4.3" />
<path d="M1189.1 1362.9 C1190.5 1364.2 1194 1368.1 1197.5 1370.5 C1201 1372.9 1208.1 1376.1 1210.2 1377.2" fill="none" stroke="#000" stroke-width="4.3" />
<path d="M1118 1366 L1109.2 1391.5 L1131 1376" fill="none" stroke="#000" stroke-width="4.3" />
<path d="M1115 1360 L1125 1370 L1140 1376 L1158 1366" fill="none" stroke="#000" stroke-width="4.3" />
</svg></body></html>
